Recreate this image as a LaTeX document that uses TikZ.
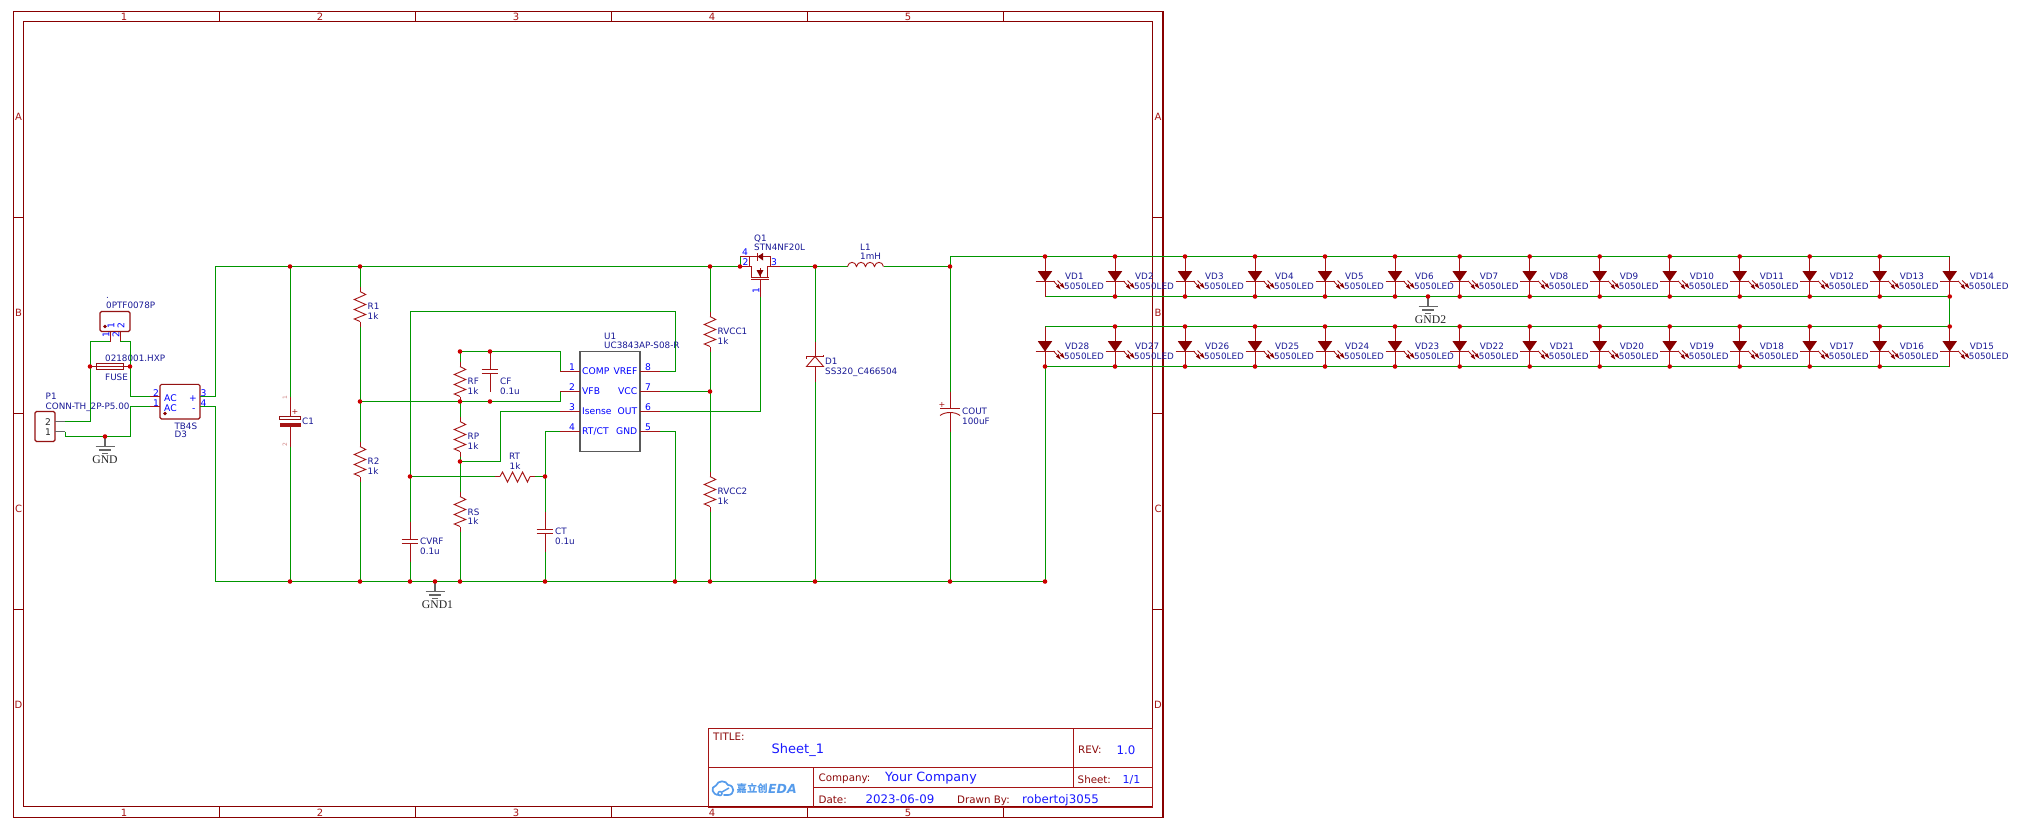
\documentclass[tikz,border=0pt]{standalone}
\usepackage{fontspec}
\setmainfont{DejaVu Sans}
\newfontfamily\gndfont{Liberation Serif}
\newfontfamily\cjkfont{Noto Sans CJK SC}
\definecolor{wirec}{RGB}{0,150,0}
\definecolor{framec}{RGB}{136,0,0}
\definecolor{compc}{RGB}{165,20,20}
\definecolor{labc}{RGB}{25,25,150}
\definecolor{pinc}{RGB}{0,0,255}
\definecolor{dotc}{RGB}{204,0,0}
\definecolor{logoc}{RGB}{85,155,235}
\definecolor{titlec}{RGB}{140,10,10}
\tikzset{
  wire/.style={draw=wirec,line width=0.9pt,line join=miter},
  frameline/.style={draw=framec,line width=1.1pt},
  pinline/.style={draw=compc,line width=0.9pt},
  comp/.style={draw=compc,line width=0.9pt,line join=miter},
  partbox/.style={draw=compc!90!black,line width=1.2pt,rounded corners=1.5pt,inner sep=0pt,fill=none},
  chipbox/.style={draw=black!65,line width=1.2pt,inner sep=0pt},
  jdot/.style={circle,fill=dotc,draw=none,inner sep=0pt,minimum size=4.6pt},
  lbl/.style={anchor=base west,inner sep=0pt,text=labc,font=\fontsize{8.8}{9}\selectfont},
  pinl/.style={anchor=base west,inner sep=0pt,text=pinc,font=\fontsize{9.2}{9}\selectfont},
  pinr/.style={anchor=base east,inner sep=0pt,text=pinc,font=\fontsize{9.2}{9}\selectfont},
  pinn/.style={anchor=base,inner sep=0pt,text=pinc,font=\fontsize{9.2}{9}\selectfont},
  bord/.style={anchor=center,inner sep=0pt,text=compc,font=\fontsize{10}{10}\selectfont},
  ttl/.style={anchor=base west,inner sep=0pt,text=titlec,font=\fontsize{10.3}{10}\selectfont},
  val/.style={anchor=base west,inner sep=0pt,text=blue!90!white,font=\fontsize{11.8}{12}\selectfont},
}
\newcounter{lb}
\newcommand{\Tx}[4][lbl]{\stepcounter{lb}\node[#1] (tx\thelb) at (#2,#3+3.3) {#4};}
\newcommand{\Pt}[3]{\coordinate (#1) at (#2,#3);}
\newcommand{\Jn}[1]{\node[jdot] (d#1) at (#1) {};}
\newcommand{\ResV}[3]{% name x ytop
  \coordinate (#1a) at (#2,#3); \coordinate (#1b) at (#2,#3+40);
  \draw[pinline] (#1a) -- ++(0,5); \draw[pinline] (#1b) -- ++(0,-5);
  \draw[comp] (#2,#3+5) -- ++(5.7,3) -- ++(-11.4,5) -- ++(11.4,5) -- ++(-11.4,5) -- ++(11.4,5) -- ++(-11.4,4.5) -- ++(5.7,2.5);}
\newcommand{\CapV}[3]{% name x ytop, 40 long
  \coordinate (#1a) at (#2,#3); \coordinate (#1b) at (#2,#3+40);
  \draw[pinline] (#1a) -- (#2,#3+17.7); \draw[pinline] (#1b) -- (#2,#3+22.3);
  \draw[comp] (#2-8.3,#3+17.7) -- (#2+8.3,#3+17.7);
  \draw[comp] (#2-8.3,#3+22.3) -- (#2+8.3,#3+22.3);}
\newcommand{\Gnd}[5]{% name x y offset text
  \draw[black!60,line width=1.1pt] (#2,#3) -- (#2,#3+10);
  \draw[black!60,line width=1.1pt] (#2-9.5,#3+10) -- (#2+9.5,#3+10);
  \draw[black!60,line width=1.1pt] (#2-6,#3+13.5) -- (#2+6,#3+13.5);
  \draw[black!60,line width=1.1pt] (#2-3,#3+17) -- (#2+3,#3+17);
  \node[inner sep=0pt,anchor=center,font=\gndfont\fontsize{11.7}{12}\selectfont,text=black!85] (#1) at (#2+#4,#3+22.7) {#5};}
\newcommand{\LED}[4]{% name x ytop label
  \coordinate (#1a) at (#2,#3); \coordinate (#1b) at (#2,#3+40);
  \draw[pinline] (#1a) -- (#1b);
  \fill[framec] (#2-7.2,#3+14.7) -- (#2+7.2,#3+14.7) -- (#2,#3+25) -- cycle;
  \draw[comp] (#2-9.5,#3+25) -- (#2+9.5,#3+25);
  \draw[comp,line width=0.8pt] (#2+8.5,#3+24.5) -- (#2+13,#3+29.5);
  \draw[comp,line width=0.8pt] (#2+12.5,#3+24) -- (#2+17,#3+28.5);
  \fill[framec] (#2+15.7,#3+33) -- (#2+11,#3+30.2) -- (#2+13.6,#3+27.6) -- cycle;
  \fill[framec] (#2+19.7,#3+32) -- (#2+15,#3+29.2) -- (#2+17.6,#3+26.6) -- cycle;
  \Tx{#2+20}{#3+20}{#4}
  \Tx{#2+19}{#3+29.2}{5050LED}}
\begin{document}
\begin{tikzpicture}[x=1pt,y=-1pt]
\useasboundingbox (0,0) rectangle (2021,828);
\fill[white] (0,0) rectangle (2021,828);
% ---- frame
\draw[frameline] (13.5,11.5) rectangle (1163,817.5);
\draw[frameline] (23.5,21.5) rectangle (1152.5,806.5);
\foreach \xx in {219.5,415.5,611.5,807.5,1003.5}{
  \draw[frameline] (\xx,11.5) -- (\xx,21.5);
  \draw[frameline] (\xx,806.5) -- (\xx,817.5);}
\foreach \yy in {217.5,413.5,609.5}{
  \draw[frameline] (13.5,\yy) -- (23.5,\yy);
  \draw[frameline] (1152.5,\yy) -- (1163,\yy);}
\foreach \nn/\xx in {1/124,2/320,3/516,4/712,5/908}{
  \node[bord] (ct\nn) at (\xx,16.5) {\nn};
  \node[bord] (cb\nn) at (\xx,813) {\nn};}
\foreach \nn/\yy in {A/116.5,B/312.5,C/508.5,D/704.5}{
  \node[bord] (rl\nn) at (18.5,\yy) {\nn};
  \node[bord] (rr\nn) at (1158,\yy) {\nn};}
% ---- title block
\draw[pinline,line width=1.2pt] (708.5,728.5) rectangle (1152.5,807.5);
\draw[pinline] (708.5,767.5) -- (1152.5,767.5);
\draw[pinline] (1073,728.5) -- (1073,787.5);
\draw[pinline] (813.5,787.5) -- (1152.5,787.5);
\draw[pinline] (813.5,767.5) -- (813.5,807.5);
\node[ttl] (tTitle) at (713,740.8) {TITLE:};
\node[val,font=\fontsize{13}{13}\selectfont] (tSheet) at (771.5,753.5) {Sheet\_1};
\node[ttl] (tRev) at (1078,753.8) {REV:};
\node[val] (tRevv) at (1116.5,754.2) {1.0};
\node[ttl] (tComp) at (818.5,781) {Company:};
\node[val,font=\fontsize{12.7}{13}\selectfont] (tCompv) at (885,781) {Your Company};
\node[ttl] (tSh) at (1077.5,783) {Sheet:};
\node[val,font=\fontsize{11}{11}\selectfont] (tShv) at (1122.5,783) {1/1};
\node[ttl] (tDate) at (818.5,803) {Date:};
\node[val] (tDatev) at (865.5,803) {2023-06-09};
\node[ttl] (tDr) at (957,803) {Drawn By:};
\node[val] (tDrv) at (1022,803) {robertoj3055};
% logo
\draw[logoc,line width=1.7pt,line cap=round] (719,795) .. controls (712,795) and (710,787) .. (716,785.5) .. controls (718,780) and (726,780) .. (728,785) .. controls (735,785) and (735,795) .. (728,795) -- (724,795);
\draw[logoc,line width=1.5pt] (720,793.5) circle (2);
\draw[logoc,line width=1.5pt] (722,792) -- (729,788);
\node[inner sep=0pt,anchor=base west,text=logoc,font=\cjkfont\bfseries\fontsize{10.3}{10}\selectfont] (logoA) at (736.5,792.3) {嘉立创};
\node[inner sep=0pt,anchor=base west,text=logoc,font=\bfseries\itshape\fontsize{12.5}{12}\selectfont] (logoB) at (768,793) {EDA};
% ---- points
\Pt{tl}{215}{266.5}\Pt{bl}{215}{581.5}
\Pt{t3}{200}{396.5}\Pt{t4}{200}{406.5}\Pt{k3}{215}{396.5}\Pt{k4}{215}{406.5}
\Pt{d2}{150}{396.5}\Pt{d1}{150}{406.5}
\Pt{p2}{65}{421.5}\Pt{p1}{65}{431.5}\Pt{p1k}{65}{436.5}
\Pt{gnd}{105}{436.5}\Pt{ac}{130}{436.5}\Pt{ac2}{130}{406.5}\Pt{ac3}{130}{396.5}
\Pt{fl}{90}{366.5}\Pt{fr}{130}{366.5}\Pt{fk}{90}{421.5}
\Pt{ptl}{90}{341.5}\Pt{ptr}{130}{341.5}\Pt{pt1}{110}{341.5}\Pt{pt2}{120}{341.5}
\Pt{c1t}{290}{266.5}\Pt{c1b}{290}{581.5}\Pt{c1p}{290}{396.5}\Pt{c1q}{290}{446.5}
\Pt{r1t}{360}{266.5}\Pt{r1m}{360}{401.5}\Pt{r1b}{360}{581.5}
\Pt{vt}{410}{311.5}\Pt{vm}{410}{476.5}\Pt{vb}{410}{581.5}
\Pt{vt2}{675}{311.5}\Pt{vt3}{675}{371.5}
\Pt{u8}{660}{371.5}\Pt{u7}{660}{391.5}\Pt{u6}{660}{411.5}\Pt{u5}{660}{431.5}
\Pt{u1}{560}{371.5}\Pt{u2}{560}{391.5}\Pt{u3}{560}{411.5}\Pt{u4}{560}{431.5}
\Pt{fbt}{460}{351.5}\Pt{cft}{490}{351.5}\Pt{u1k}{560}{351.5}
\Pt{fbm}{460}{401.5}\Pt{cfm}{490}{401.5}\Pt{u2k}{560}{401.5}
\Pt{isk}{500}{411.5}\Pt{isk2}{500}{461.5}\Pt{rpb}{460}{461.5}
\Pt{rsb}{460}{581.5}
\Pt{rta}{495}{476.5}\Pt{rtb}{535}{476.5}
\Pt{rtr}{545}{476.5}\Pt{u4k}{545}{431.5}\Pt{ctb}{545}{581.5}
\Pt{u5k}{675}{431.5}\Pt{u5b}{675}{581.5}
\Pt{gn1}{435}{581.5}
\Pt{rvt}{710}{266.5}\Pt{rvm}{710}{391.5}\Pt{rvb}{710}{581.5}
\Pt{q6k}{760}{411.5}\Pt{qg}{760}{296.5}
\Pt{qs}{740}{266.5}\Pt{qs2}{740}{256.5}
\Pt{qd}{780}{266.5}\Pt{dj}{815}{266.5}\Pt{dt}{815}{341.5}\Pt{db}{815}{381.5}\Pt{dbb}{815}{581.5}
\Pt{l1a}{847.5}{266.5}\Pt{l1b}{883.5}{266.5}
\Pt{oj}{950}{266.5}\Pt{ot}{950}{256.5}\Pt{ob}{950}{581.5}\Pt{cot}{950}{391.5}\Pt{cob}{950}{431.5}
\Pt{brb}{1045}{581.5}\Pt{gn2}{1428}{296.5}
% ---- connector P1
\node[partbox,minimum width=20pt,minimum height=30pt] (P1) at (45,426.5) {};
\draw[black!60,line width=1pt] (55,421.5) -- (p2);
\draw[black!60,line width=1pt] (55,431.5) -- (p1);
\node[inner sep=0pt,anchor=center,text=black!85,font=\fontsize{9.2}{9}\selectfont] (P1n2) at (48,422.5) {2};
\node[inner sep=0pt,anchor=center,text=black!85,font=\fontsize{9.2}{9}\selectfont] (P1n1) at (48,432.5) {1};
\Tx{45.5}{396.5}{P1}
\Tx{45.5}{406}{CONN-TH\_2P-P5.00}
% ---- 0PTF
\node[partbox,minimum width=30pt,minimum height=20pt] (PT) at (115,321.5) {};
\draw[pinline] (PT.south -| pt1) -- (pt1);
\draw[pinline] (PT.south -| pt2) -- (pt2);
\fill[framec] (105,326.5) circle (1.8);
\node[pinn,rotate=90,anchor=center] (PTa) at (111,325.5) {1};
\node[pinn,rotate=90,anchor=center] (PTb) at (121,325.5) {2};
\node[pinn,rotate=90,anchor=center] (PTc) at (106,335) {1};
\node[pinn,rotate=90,anchor=center] (PTd) at (116,335) {2};
\Tx{106}{305}{0PTF0078P}
\Tx{106}{295}{.}
% ---- fuse
\draw[pinline] (fl) -- (fr);
\node[partbox,rounded corners=0pt,minimum width=26.7pt,minimum height=6.6pt] (FUSE) at (110,366.5) {};
\Tx{105}{357.7}{0218001.HXP}
\Tx{105}{376.7}{FUSE}
% ---- bridge
\node[partbox,minimum width=40pt,minimum height=34.7pt] (D3) at (180,401.7) {};
\draw[pinline] (d2) -- (160,396.5);
\draw[pinline] (d1) -- (160,406.5);
\draw[pinline] (t3) -- (207,396.5);
\draw[pinline] (t4) -- (207,406.5);
\fill[framec] (165,413.5) circle (1.8);
\Tx[pinl]{164}{397.7}{AC}
\Tx[pinl]{164}{407.7}{AC}
\Tx[pinl]{189}{397.7}{+}
\Tx[pinl]{192}{407.7}{-}
\node[pinn] (D3a) at (156,396.2) {2};
\node[pinn] (D3b) at (156,406.2) {1};
\node[pinn] (D3c) at (203.5,396.2) {3};
\node[pinn] (D3d) at (203.5,406.2) {4};
\Tx{174.3}{425.7}{TB4S}
\Tx{174.3}{434}{D3}
% ---- C1
\draw[pinline] (c1p) -- (290,416);
\draw[pinline] (c1q) -- (290,427);
\node[partbox,rounded corners=0pt,minimum width=21pt,minimum height=3.6pt] (C1a) at (290,418) {};
\fill[compc] (279.5,423) rectangle (300.5,427);
\node[inner sep=0pt,text=compc,font=\fontsize{8}{8}\selectfont] (C1p) at (295,412) {+};
\node[inner sep=0pt,rotate=90,text=compc!50,font=\fontsize{6}{6}\selectfont] (C1q) at (285,398) {1};
\node[inner sep=0pt,rotate=90,text=compc!50,font=\fontsize{6}{6}\selectfont] (C1r) at (285,445) {2};
\Tx{302}{421.5}{C1}
% ---- resistors
\ResV{Ra}{360}{286.5}\Tx{367.5}{306.5}{R1}\Tx{367.5}{316}{1k}
\ResV{Rb}{360}{441.5}\Tx{367.5}{461.5}{R2}\Tx{367.5}{471}{1k}
\ResV{Rc}{460}{361.5}\Tx{467.5}{381.5}{RF}\Tx{467.5}{391}{1k}
\ResV{Rd}{460}{416.5}\Tx{467.5}{436.5}{RP}\Tx{467.5}{446}{1k}
\ResV{Re}{460}{491.5}\Tx{467.5}{512.3}{RS}\Tx{467.5}{521}{1k}
\ResV{Rf}{710}{311.5}\Tx{717.5}{331.5}{RVCC1}\Tx{717.5}{341}{1k}
\ResV{Rg}{710}{471.5}\Tx{717.5}{491.5}{RVCC2}\Tx{717.5}{501}{1k}
% RT horizontal
\draw[pinline] (rta) -- (500,476.5);
\draw[pinline] (rtb) -- (530,476.5);
\draw[comp] (500,476.5) -- ++(2.5,-4.5) -- ++(5,10) -- ++(5,-10) -- ++(5,10) -- ++(5,-10) -- ++(5,10) -- ++(2.5,-5.5);
\Tx{509}{456.5}{RT}\Tx{509.5}{465.7}{1k}
% ---- capacitors
\CapV{Ca}{490}{351.5}\Tx{500}{381.5}{CF}\Tx{500}{391}{0.1u}
\CapV{Cb}{545}{511.5}\Tx{555}{531.5}{CT}\Tx{555}{541}{0.1u}
\CapV{Cc}{410}{521.5}\Tx{420}{541.5}{CVRF}\Tx{420}{551}{0.1u}
% ---- wires
\draw[wire] (d2) -- (ac3) -- (ptr) -- (pt2);
\draw[wire] (pt1) -- (ptl) -- (fk) -- (p2);
\draw[wire] (p1) -- (p1k) -- (ac) -- (ac2) -- (d1);
\draw[wire] (t3) -- (k3) -- (tl) -- (qs);
\draw[wire] (t4) -- (k4) -- (bl) -- (brb);
\draw[wire] (c1t) -- (c1p);\draw[wire] (c1q) -- (c1b);
\draw[wire] (qs) -- (qs2);
\draw[wire] (qd) -- (l1a);
\draw[wire] (l1b) -- (oj);
\draw[wire] (ot) -- (cot); \draw[wire] (cob) -- (ob);
\draw[wire] (r1m) -- (fbm) -- (u2k) -- (u2);
\draw[wire] (fbt) -- (u1k) -- (u1);
\draw[wire] (u3) -- (isk) -- (isk2) -- (rpb);
\draw[wire] (vm) -- (rta); \draw[wire] (rtb) -- (rtr);
\draw[wire] (u8) -- (vt3) -- (vt2) -- (vt) -- (Cca);
\draw[wire] (Ccb) -- (vb);
\draw[wire] (u4) -- (u4k) -- (Cba);
\draw[wire] (Cbb) -- (ctb);
\draw[wire] (u5) -- (u5k) -- (u5b);
\draw[wire] (u7) -- (rvm);
\draw[wire] (u6) -- (q6k) -- (qg);
\draw[wire] (dj) -- (dt); \draw[wire] (db) -- (dbb);
\draw[wire] (rvt) -- (Rfa); \draw[wire] (Rfb) -- (Rga); \draw[wire] (Rgb) -- (rvb);
\draw[wire] (r1t) -- (Raa); \draw[wire] (Rab) -- (Rba); \draw[wire] (Rbb) -- (r1b);
\draw[wire] (fbt) -- (Rca); \draw[wire] (Rcb) -- (Rda); \draw[wire] (Rdb) -- (Rea); \draw[wire] (Reb) -- (rsb);
% ---- U1
\node[chipbox,minimum width=60pt,minimum height=100pt] (U1) at (610,401.5) {};
\foreach \nm/\yy in {u1/371.5,u2/391.5,u3/411.5,u4/431.5}{\draw[pinline] (\nm) -- (580,\yy);}
\foreach \nm/\yy in {u8/371.5,u7/391.5,u6/411.5,u5/431.5}{\draw[pinline] (\nm) -- (640,\yy);}
\Tx[pinl]{582}{371.5}{COMP}\Tx[pinl]{582}{391.5}{VFB}\Tx[pinl]{582}{411.5}{Isense}\Tx[pinl]{582}{431.5}{RT/CT}
\Tx[pinr]{637.5}{371.5}{VREF}\Tx[pinr]{637.5}{391.5}{VCC}\Tx[pinr]{637.5}{411.5}{OUT}\Tx[pinr]{637.5}{431.5}{GND}
\foreach \tt/\yy in {1/370.5,2/390.5,3/410.5,4/430.5}{\node[pinn] (ul\tt) at (572,\yy) {\tt};}
\foreach \tt/\yy in {8/370.5,7/390.5,6/410.5,5/430.5}{\node[pinn] (ur\tt) at (648,\yy) {\tt};}
\Tx{604}{336.3}{U1}\Tx{604}{345.5}{UC3843AP-S08-R}
% ---- Q1
\draw[pinline] (qs2) -- (770,256.5) -- (770,266.5);
\draw[pinline] (749,256.5) -- (749,266.5);
\draw[pinline] (qs) -- (751.5,266.5) -- (751.5,276.5);
\draw[pinline] (qd) -- (767,266.5) -- (767,276.5);
\draw[comp] (751,277) -- (769,277);
\draw[comp] (751,279.5) -- (769,279.5);
\draw[comp] (760,268) -- (760,277);
\fill[framec] (756.5,270) -- (763.5,270) -- (760,276.5) -- cycle;
\draw[pinline] (760,279.5) -- (qg);
\fill[framec] (763,253) -- (763,260.5) -- (757.5,256.5) -- cycle;
\draw[comp] (757.5,253) -- (757.5,260.5);
\node[pinn] (Qa) at (745,255.5) {4};
\node[pinn] (Qb) at (745.5,265) {2};
\node[pinn] (Qc) at (774,265) {3};
\node[pinn,rotate=90,anchor=center] (Qd) at (756,290.5) {1};
\Tx{754}{238}{Q1}\Tx{754}{247}{STN4NF20L}
% ---- L1
\draw[comp] (l1a) foreach \ii in {0,1,2,3}{ .. controls (847.5+\ii*9+1,261) and (847.5+\ii*9+8,261) .. (847.5+\ii*9+9,266.5)};
\Tx{860}{247}{L1}\Tx{860}{256}{1mH}
% ---- D1
\draw[pinline] (dt) -- (815,356.5);
\draw[pinline] (815,366.5) -- (db);
\draw[comp] (806.5,358.5) -- (806.5,356.5) -- (823.5,356.5) -- (823.5,354.5);
\draw[comp] (815,356.5) -- (806.5,366.5) -- (823.5,366.5) -- cycle;
\Tx{825}{361.5}{D1}\Tx{825}{371}{SS320\_C466504}
% ---- COUT
\draw[pinline] (cot) -- (950,408.5);
\draw[pinline] (950,413) -- (cob);
\draw[comp] (940,408.5) -- (960,408.5);
\draw[comp] (940,415.5) .. controls (945,411.5) and (955,411.5) .. (960,415.5);
\node[inner sep=0pt,text=compc,font=\fontsize{8}{8}\selectfont] (Cop) at (942,405) {+};
\Tx{962}{411.5}{COUT}\Tx{962}{420.7}{100uF}
% ---- LED rows
\Pt{r1bl}{1045}{296.5}\Pt{r1br}{1949.7}{296.5}
\Pt{r2tl}{1045}{326.5}\Pt{r2tr}{1949.7}{326.5}
\Pt{r2bl}{1045}{366.5}\Pt{r2br}{1949.7}{366.5}
\Pt{topr}{1949.7}{256.5}
\draw[wire] (ot) -- (topr);
\draw[wire] (r1bl) -- (r1br) -- (r2tr) -- (r2tl);
\draw[wire] (r2bl) -- (r2br);
\draw[wire] (r2bl) -- (brb);
\foreach \xx/\aa/\bb in {1045/1/28,1115/2/27,1185/3/26,1255/4/25,1325/5/24,1395/6/23,1459.7/7/22,1529.7/8/21,1599.7/9/20,1669.7/10/19,1739.7/11/18,1809.7/12/17,1879.7/13/16,1949.7/14/15}{
  \LED{La\aa}{\xx}{256.5}{VD\aa}
  \LED{Lb\bb}{\xx}{326.5}{VD\bb}
}
\foreach \nm/\xx in {a1/1045,a2/1115,a3/1185,a4/1255,a5/1325,a6/1395,a7/1459.7,a8/1529.7,a9/1599.7,a10/1669.7,a11/1739.7,a12/1809.7,a13/1879.7}{
  \node[jdot] (t\nm) at (\xx,256.5) {};
  \node[jdot] (m\nm) at (\xx,366.5) {};}
\foreach \nm/\xx in {b2/1115,b3/1185,b4/1255,b5/1325,b6/1395,b7/1459.7,b8/1529.7,b9/1599.7,b10/1669.7,b11/1739.7,b12/1809.7,b13/1879.7,b14/1949.7}{
  \node[jdot] (u\nm) at (\xx,296.5) {};
  \node[jdot] (v\nm) at (\xx,326.5) {};}
% ---- ground symbols
\Gnd{g0}{105}{436.5}{0}{GND}
\Gnd{g1}{435}{581.5}{2.5}{GND1}
\Gnd{g2}{1428}{296.5}{2.5}{GND2}
% ---- junction dots
\foreach \nm in {fl,fr,gnd,c1t,c1b,r1t,r1m,r1b,vm,vb,fbt,cft,fbm,cfm,rpb,rsb,rtr,ctb,u5b,gn1,rvt,rvm,rvb,qs,dj,dbb,oj,ob,brb,gn2}{\Jn{\nm}}
\end{tikzpicture}
\end{document}
